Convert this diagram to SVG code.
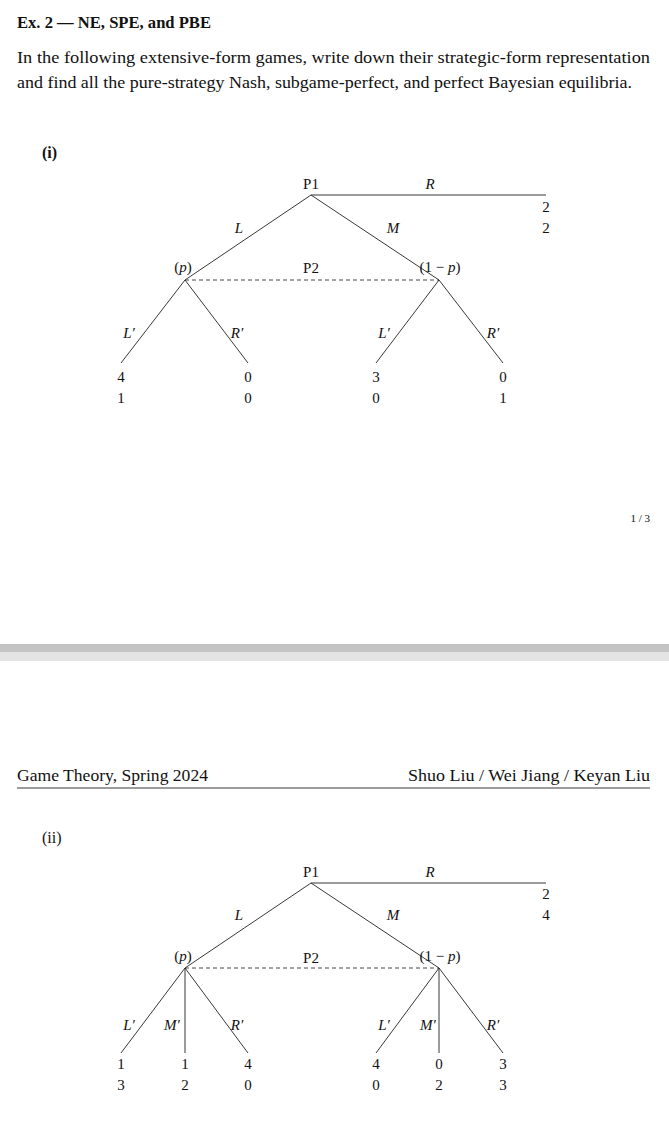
<svg xmlns="http://www.w3.org/2000/svg" width="669" height="1143" viewBox="0 0 669 1143">
<style>
text{font-family:"Liberation Serif","DejaVu Serif",serif;fill:#111}
.t{font-size:15px;text-anchor:middle}
.i{font-style:italic}
.e{stroke:#222;stroke-width:0.9;fill:none}
.d{stroke:#333;stroke-width:0.9;stroke-dasharray:4 3;fill:none}
</style>
<rect width="669" height="1143" fill="#fff"/>
<text x="17" y="28" font-size="16.5" font-weight="bold" textLength="194" lengthAdjust="spacingAndGlyphs">Ex. 2 — NE, SPE, and PBE</text>
<text x="17" y="63" font-size="17.5" textLength="633" lengthAdjust="spacingAndGlyphs">In the following extensive-form games, write down their strategic-form representation</text>
<text x="17" y="88" font-size="17.5" textLength="615" lengthAdjust="spacingAndGlyphs">and find all the pure-strategy Nash, subgame-perfect, and perfect Bayesian equilibria.</text>
<text x="42" y="158" font-size="16" font-weight="bold">(i)</text>
<g id="connectors1">
<line class="e" x1="311" y1="195" x2="546" y2="195"/>
<line class="e" x1="311" y1="195" x2="185" y2="280"/>
<line class="e" x1="311" y1="195" x2="439" y2="280"/>
<line class="d" x1="185" y1="280" x2="439" y2="280"/>
<line class="e" x1="185" y1="280" x2="121" y2="363"/>
<line class="e" x1="185" y1="280" x2="248" y2="363"/>
<line class="e" x1="439" y1="280" x2="376" y2="363"/>
<line class="e" x1="439" y1="280" x2="503" y2="363"/>
</g>
<g id="labels1">
<text class="t" x="311" y="189">P1</text>
<text class="t i" x="430" y="189">R</text>
<text class="t" x="546" y="212">2</text><text class="t" x="546" y="233">2</text>
<text class="t i" x="239" y="233">L</text>
<text class="t i" x="393" y="233">M</text>
<text class="t" x="311" y="273">P2</text>
<text class="t" x="183" y="272">(<tspan class="i">p</tspan>)</text>
<text class="t" x="440" y="272">(1 − <tspan class="i">p</tspan>)</text>
<text class="t i" x="129" y="338">L′</text>
<text class="t i" x="237" y="338">R′</text>
<text class="t i" x="384" y="338">L′</text>
<text class="t i" x="493" y="338">R′</text>
<text class="t" x="121" y="382">4</text><text class="t" x="121" y="403">1</text>
<text class="t" x="248" y="382">0</text><text class="t" x="248" y="403">0</text>
<text class="t" x="376" y="382">3</text><text class="t" x="376" y="403">0</text>
<text class="t" x="503" y="382">0</text><text class="t" x="503" y="403">1</text>
</g>
<text x="650" y="522" font-size="11" text-anchor="end">1 / 3</text>
<rect x="0" y="644" width="669" height="8" fill="#c4c4c4"/>
<rect x="0" y="652" width="669" height="9" fill="#e4e4e4"/>
<text x="17" y="781" font-size="16.5" textLength="191" lengthAdjust="spacingAndGlyphs">Game Theory, Spring 2024</text>
<text x="408" y="781" font-size="16.5" textLength="242" lengthAdjust="spacingAndGlyphs">Shuo Liu / Wei Jiang / Keyan Liu</text>
<line x1="17" y1="788" x2="650" y2="788" stroke="#222" stroke-width="0.9"/>
<text x="42" y="843" font-size="16">(ii)</text>
<g id="connectors2">
<line class="e" x1="311" y1="883" x2="546" y2="883"/>
<line class="e" x1="311" y1="883" x2="185" y2="968"/>
<line class="e" x1="311" y1="883" x2="439" y2="968"/>
<line class="d" x1="185" y1="968" x2="439" y2="968"/>
<line class="e" x1="185" y1="968" x2="121" y2="1053"/>
<line class="e" x1="185" y1="968" x2="185" y2="1053"/>
<line class="e" x1="185" y1="968" x2="248" y2="1053"/>
<line class="e" x1="439" y1="968" x2="376" y2="1053"/>
<line class="e" x1="439" y1="968" x2="439" y2="1053"/>
<line class="e" x1="439" y1="968" x2="503" y2="1053"/>
</g>
<g id="labels2">
<text class="t" x="311" y="877">P1</text>
<text class="t i" x="430" y="877">R</text>
<text class="t" x="546" y="899">2</text><text class="t" x="546" y="920">4</text>
<text class="t i" x="239" y="920">L</text>
<text class="t i" x="393" y="920">M</text>
<text class="t" x="311" y="963">P2</text>
<text class="t" x="183" y="961">(<tspan class="i">p</tspan>)</text>
<text class="t" x="440" y="961">(1 − <tspan class="i">p</tspan>)</text>
<text class="t i" x="129" y="1030">L′</text>
<text class="t i" x="172" y="1030">M′</text>
<text class="t i" x="237" y="1030">R′</text>
<text class="t i" x="384" y="1030">L′</text>
<text class="t i" x="428" y="1030">M′</text>
<text class="t i" x="493" y="1030">R′</text>
<text class="t" x="121" y="1069">1</text><text class="t" x="121" y="1090">3</text>
<text class="t" x="185" y="1069">1</text><text class="t" x="185" y="1090">2</text>
<text class="t" x="248" y="1069">4</text><text class="t" x="248" y="1090">0</text>
<text class="t" x="376" y="1069">4</text><text class="t" x="376" y="1090">0</text>
<text class="t" x="439" y="1069">0</text><text class="t" x="439" y="1090">2</text>
<text class="t" x="503" y="1069">3</text><text class="t" x="503" y="1090">3</text>
</g>
</svg>
